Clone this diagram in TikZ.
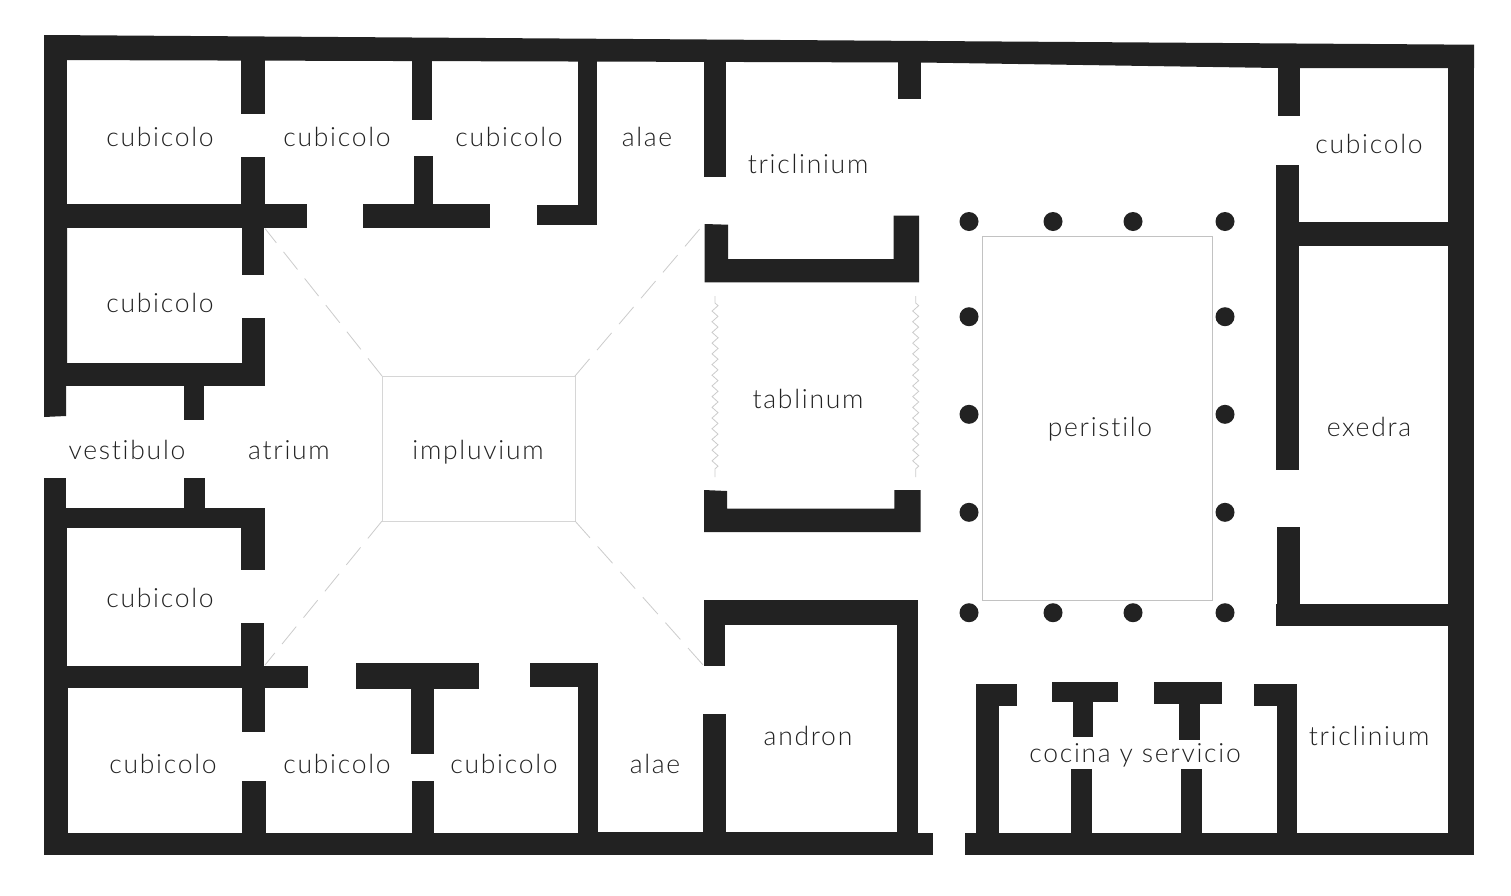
\documentclass[tikz,border=0pt]{standalone}
\usepackage{fontspec}
\setmainfont{Lato}[UprightFont=* Light,LetterSpace=6.5,Ligatures={NoCommon}]
\usetikzlibrary{decorations.pathmorphing}
\definecolor{wallc}{HTML}{222222}
\definecolor{faint}{HTML}{CCCCCC}
\tikzset{
  x=1pt,y=-1pt,
  wall/.style={fill=wallc,draw=none},
  column/.style={circle,fill=wallc,draw=none,minimum size=19pt,inner sep=0pt},
  room/.style={anchor=base,text=wallc,inner sep=0pt,font=\fontsize{26.5}{30}\selectfont},
  pool/.style={draw=faint!80,line width=0.9pt},
  eave/.style={draw=faint,line width=0.8pt,dash pattern=on 22.5pt off 11.5pt},
  curtain/.style={draw=faint,line width=0.8pt,decorate,decoration={zigzag,segment length=10.7pt,amplitude=3pt,pre length=7pt,post length=7pt}}
}
\begin{document}
\begin{tikzpicture}
\useasboundingbox (0,0) rectangle (1511,895);
\fill[white] (0,0) rectangle (1511,895);
% outer walls
\fill[wall] (44,35) -- (1474,44.7) -- (1474,68) -- (1278,68) -- (921,62.5) -- (44,60) -- cycle;
\fill[wall] (44,35) rectangle (67,228);
\fill[wall] (44,228) -- (67,228) -- (67,385) -- (66,385) -- (66,416) -- (44,417) -- cycle;
\fill[wall] (44,478) rectangle (66,528);
\fill[wall] (44,528) rectangle (67,688);
\fill[wall] (44,688) rectangle (68,855);
\fill[wall] (44,833) rectangle (933,855);
\fill[wall] (598,832) rectangle (897,834);
\fill[wall] (965,833) rectangle (1474,855);
\fill[wall] (1448,44.7) rectangle (1474,855);
% north-west rooms
\fill[wall] (44,204.3) rectangle (307,228.3);
\fill[wall] (241,60) rectangle (265,114);
\fill[wall] (241,156.7) rectangle (265,205);
\fill[wall] (242,228) rectangle (264,275);
\fill[wall] (412,60) rectangle (432.3,120);
\fill[wall] (363,204.3) rectangle (489.5,228.3);
\fill[wall] (413.5,155.7) rectangle (433,205);
\fill[wall] (577.5,60) rectangle (597,225);
\fill[wall] (536.5,204.7) rectangle (597,225);
% west rooms
\fill[wall] (44,362.7) rectangle (265,385.5);
\fill[wall] (242,318.3) rectangle (265,385.5);
\fill[wall] (184,385) rectangle (204,420);
\fill[wall] (184,478) rectangle (205,508);
\fill[wall] (44,507.5) rectangle (265,528);
\fill[wall] (241,528) rectangle (265,569.7);
% south-west rooms
\fill[wall] (241,623) rectangle (264,666);
\fill[wall] (44,665.5) rectangle (308,688);
\fill[wall] (242,688) rectangle (265,732);
\fill[wall] (242,781) rectangle (266,834);
\fill[wall] (356,663) rectangle (479,688.5);
\fill[wall] (411,688) rectangle (434,754);
\fill[wall] (412,781) rectangle (434,834);
\fill[wall] (530,662.5) rectangle (598,687);
\fill[wall] (578,662.5) rectangle (598,834);
% triclinium and tablinum
\fill[wall] (704,60) rectangle (726,177);
\fill[wall] (898,62) rectangle (921,99);
\fill[wall] (704.5,224) -- (728,224.7) -- (728,259) -- (893.7,259) -- (893.7,215.5) -- (919,215.5) -- (919,282.3) -- (704.5,282.3) -- cycle;
\fill[wall] (704,490) -- (727,491) -- (727,508.5) -- (894.3,508.5) -- (894.3,490) -- (920.5,490) -- (920.5,532) -- (704,532) -- cycle;
% andron
\fill[wall] (703.5,600) rectangle (917.5,625);
\fill[wall] (703.5,600) rectangle (725,666);
\fill[wall] (897,600) rectangle (917.5,834);
\fill[wall] (703,713.7) rectangle (725.7,834);
% east rooms
\fill[wall] (1278,67) rectangle (1300,116);
\fill[wall] (1276,164.5) rectangle (1299,470.3);
\fill[wall] (1276,222) rectangle (1474,246);
\fill[wall] (1276.5,527) rectangle (1299.5,604);
\fill[wall] (1276,603.5) rectangle (1474,626);
% kitchen
\fill[wall] (976,684) rectangle (999,834);
\fill[wall] (976,684) rectangle (1016.5,706);
\fill[wall] (1052,682) rectangle (1117.5,702);
\fill[wall] (1073,702) rectangle (1093,736.5);
\fill[wall] (1070.5,769) rectangle (1092,834);
\fill[wall] (1154,682) rectangle (1221.6,703.5);
\fill[wall] (1179,703) rectangle (1199.5,739.7);
\fill[wall] (1181,769) rectangle (1202,834);
\fill[wall] (1253.5,684) rectangle (1297,706);
\fill[wall] (1277,684) rectangle (1297,834);
% impluvium, roof lines
\coordinate (iNW) at (382,376); \coordinate (iNE) at (575,376);
\coordinate (iSE) at (575,521); \coordinate (iSW) at (382,521);
\coordinate (cNW) at (265,228.5); \coordinate (cNE) at (704,224);
\coordinate (cSW) at (265,665); \coordinate (cSE) at (704,666);
\draw[pool] (iNW) -- (iNE) -- (iSE) -- (iSW) -- cycle;
\draw[eave] (iNW) -- (cNW);
\draw[eave] (iNE) -- (cNE);
\draw[eave] (iSW) -- (cSW);
\draw[eave] (iSE) -- (cSE);
% curtains
\coordinate (t1a) at (715,296); \coordinate (t1b) at (715,477);
\coordinate (t2a) at (915.7,296); \coordinate (t2b) at (915.7,477);
\draw[curtain] (t1a) -- (t1b);
\draw[curtain] (t2a) -- (t2b);
% peristyle
\draw[draw=faint!95!black,line width=0.9pt] (982.7,236.3) rectangle (1212.7,600.3);
\foreach \n/\cx/\cy in {a/969/221.5,b/1053/221.5,c/1133/221.5,d/1225/221.5,
  e/969/316.7,f/1225/316.7,g/969/414.3,h/1225/414.3,i/969/512.3,j/1225/512.3,
  k/969/612.7,l/1053/612.7,m/1133/612.7,n/1225/612.7}
  \node[column] (col\n) at (\cx,\cy) {};
% labels
\node[room] (r1) at (160,146) {cubicolo};
\node[room] (r2) at (337,146) {cubicolo};
\node[room] (r3) at (509,146) {cubicolo};
\node[room] (r4) at (647,146) {alae};
\node[room] (r5) at (808,173) {triclinium};
\node[room] (r6) at (160,312.7) {cubicolo};
\node[room] (r7) at (127,459.5) {vestibulo};
\node[room] (r8) at (289,459.5) {atrium};
\node[room] (r9) at (478,459.5) {impluvium};
\node[room] (r10) at (160,607) {cubicolo};
\node[room] (r11) at (163,773) {cubicolo};
\node[room] (r12) at (337,773) {cubicolo};
\node[room] (r13) at (504,773) {cubicolo};
\node[room] (r14) at (655,773) {alae};
\node[room] (r15) at (808,745.7) {andron};
\node[room] (r16) at (808,408.7) {tablinum};
\node[room] (r17) at (1100,436) {peristilo};
\node[room] (r18) at (1369,436) {exedra};
\node[room] (r19) at (1369,153) {cubicolo};
\node[room] (r20) at (1369,745.7) {triclinium};
\node[room] (r21) at (1135,762.7) {cocina y servicio};
\end{tikzpicture}
\end{document}
